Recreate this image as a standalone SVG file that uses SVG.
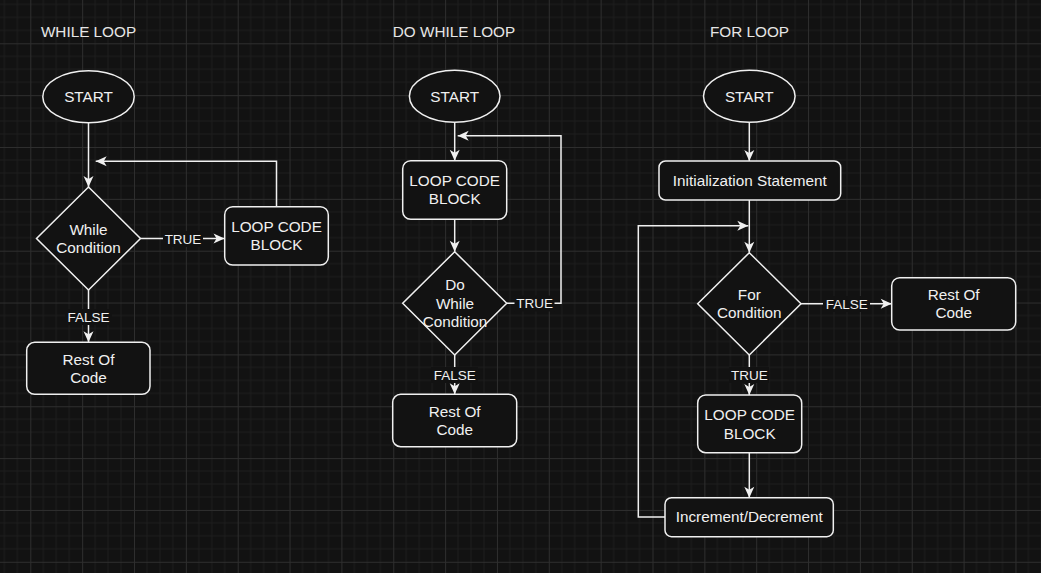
<svg xmlns="http://www.w3.org/2000/svg" width="1041" height="573" viewBox="0 0 1041 573">
<defs>
<pattern id="grid" patternUnits="userSpaceOnUse" x="30.3" y="43.3" width="51.85" height="51.85">
<rect width="51.85" height="51.85" fill="#121212"/>
<path d="M12.96,0V51.85M25.93,0V51.85M38.89,0V51.85M0,12.96H51.85M0,25.93H51.85M0,38.89H51.85" stroke="#1d1d1d" stroke-width="1" fill="none"/>
<path d="M0.5,0V51.85M0,0.5H51.85" stroke="#2e2e2e" stroke-width="1" fill="none"/>
</pattern>
<marker id="arr" markerUnits="userSpaceOnUse" markerWidth="12" markerHeight="10" refX="11" refY="5" orient="auto" overflow="visible">
<path d="M0,0 L11,5 L0,10 L3,5 Z" fill="#f0f0f0"/>
</marker>
</defs>
<style>
.n{fill:#121212;stroke:#f0f0f0;stroke-width:1.5}
.t{font-family:"Liberation Sans",Arial,sans-serif;font-size:15.3px;fill:#f0f0f0;text-anchor:middle}
.title{font-family:"Liberation Sans",Arial,sans-serif;font-size:15.3px;fill:#e6e6e6;text-anchor:middle}
.c{fill:none;stroke:#f0f0f0;stroke-width:1.5}
.a{marker-end:url(#arr)}
.lb{fill:#121212}
.l{font-family:"Liberation Sans",Arial,sans-serif;font-size:13.5px;fill:#f0f0f0;text-anchor:middle}
</style>
<rect width="1041" height="573" fill="url(#grid)"/>

<g id="titles">
<text class="title" x="88.5" y="36.5">WHILE LOOP</text>
<text class="title" x="454" y="36.5">DO WHILE LOOP</text>
<text class="title" x="749.5" y="36.5">FOR LOOP</text>
</g>

<g id="connectors">
<!-- while -->
<path class="c a" d="M88.5,122.7V187"/>
<path class="c a" d="M140.5,238.5H224.5"/>
<path class="c a" d="M276.5,206.7V161.3H95.7"/>
<path class="c a" d="M88.5,290V342.3"/>
<!-- do while -->
<path class="c a" d="M454.7,122.3V160.7"/>
<path class="c a" d="M454.7,219.3V251.7"/>
<path class="c a" d="M506.7,303.3H561V135.7H457.7"/>
<path class="c a" d="M454.7,355V394.3"/>
<!-- for -->
<path class="c a" d="M749.3,122.3V161"/>
<path class="c a" d="M749.3,200V252.7"/>
<path class="c a" d="M665,517H638.3V225.7H748.3"/>
<path class="c a" d="M801,303.8H891.7"/>
<path class="c a" d="M749.3,355V395"/>
<path class="c a" d="M749.3,452.7V497.7"/>
<!-- labels -->
<rect class="lb" x="163" y="231" width="40" height="16"/>
<text class="l" x="183" y="244">TRUE</text>
<rect class="lb" x="65" y="309" width="47" height="16"/>
<text class="l" x="88.5" y="322">FALSE</text>
<rect class="lb" x="514.5" y="295.5" width="40" height="16"/>
<text class="l" x="534.7" y="308.3">TRUE</text>
<rect class="lb" x="431" y="367" width="47" height="16"/>
<text class="l" x="454.7" y="380">FALSE</text>
<rect class="lb" x="823" y="296" width="47" height="16"/>
<text class="l" x="846.7" y="308.6">FALSE</text>
<rect class="lb" x="729" y="367" width="40" height="16"/>
<text class="l" x="749.3" y="380">TRUE</text>
</g>

<g id="while-start">
<ellipse class="n" cx="88.5" cy="96.7" rx="45.7" ry="26"/>
<text class="t" x="88.5" y="102.1">START</text>
</g>
<g id="while-condition">
<polygon class="n" points="88.5,187 140.5,238.5 88.5,290 36.5,238.5"/>
<text class="t" x="88.5" y="234.9">While</text>
<text class="t" x="88.5" y="252.9">Condition</text>
</g>
<g id="while-loop-block">
<rect class="n" x="224.7" y="206.7" width="103.6" height="58.3" rx="8"/>
<text class="t" x="276.5" y="232.4">LOOP CODE</text>
<text class="t" x="276.5" y="250.4">BLOCK</text>
</g>
<g id="while-rest">
<rect class="n" x="26.7" y="342.3" width="123.3" height="52" rx="8"/>
<text class="t" x="88.5" y="364.9">Rest Of</text>
<text class="t" x="88.5" y="382.9">Code</text>
</g>

<g id="do-start">
<ellipse class="n" cx="454.7" cy="96.2" rx="45.3" ry="26"/>
<text class="t" x="454.7" y="101.6">START</text>
</g>
<g id="do-loop-block">
<rect class="n" x="402.7" y="160.7" width="104" height="58.6" rx="8"/>
<text class="t" x="454.7" y="186.4">LOOP CODE</text>
<text class="t" x="454.7" y="204.4">BLOCK</text>
</g>
<g id="do-condition">
<polygon class="n" points="454.7,251.7 506.7,303.3 454.7,355 402.7,303.3"/>
<text class="t" x="455" y="290.4">Do</text>
<text class="t" x="455" y="308.9">While</text>
<text class="t" x="455" y="327.4">Condition</text>
</g>
<g id="do-rest">
<rect class="n" x="392.7" y="394.3" width="124" height="52.4" rx="8"/>
<text class="t" x="454.7" y="416.9">Rest Of</text>
<text class="t" x="454.7" y="435.4">Code</text>
</g>

<g id="for-start">
<ellipse class="n" cx="749.3" cy="96.2" rx="45.8" ry="26"/>
<text class="t" x="749.3" y="101.6">START</text>
</g>
<g id="for-init">
<rect class="n" x="659" y="161" width="181.7" height="39" rx="6.5"/>
<text class="t" x="749.8" y="185.9">Initialization Statement</text>
</g>
<g id="for-condition">
<polygon class="n" points="749.3,252.7 801,303.8 749.3,355 697.7,303.8"/>
<text class="t" x="749.3" y="299.9">For</text>
<text class="t" x="749.3" y="317.9">Condition</text>
</g>
<g id="for-rest">
<rect class="n" x="891.7" y="277.7" width="124" height="52.3" rx="8"/>
<text class="t" x="953.7" y="299.9">Rest Of</text>
<text class="t" x="953.7" y="317.9">Code</text>
</g>
<g id="for-loop-block">
<rect class="n" x="697.7" y="395" width="104" height="57.7" rx="8"/>
<text class="t" x="749.7" y="420.2">LOOP CODE</text>
<text class="t" x="749.7" y="438.7">BLOCK</text>
</g>
<g id="for-increment">
<rect class="n" x="665" y="497.7" width="168.3" height="39" rx="6.5"/>
<text class="t" x="749.2" y="522.4">Increment/Decrement</text>
</g>
</svg>
